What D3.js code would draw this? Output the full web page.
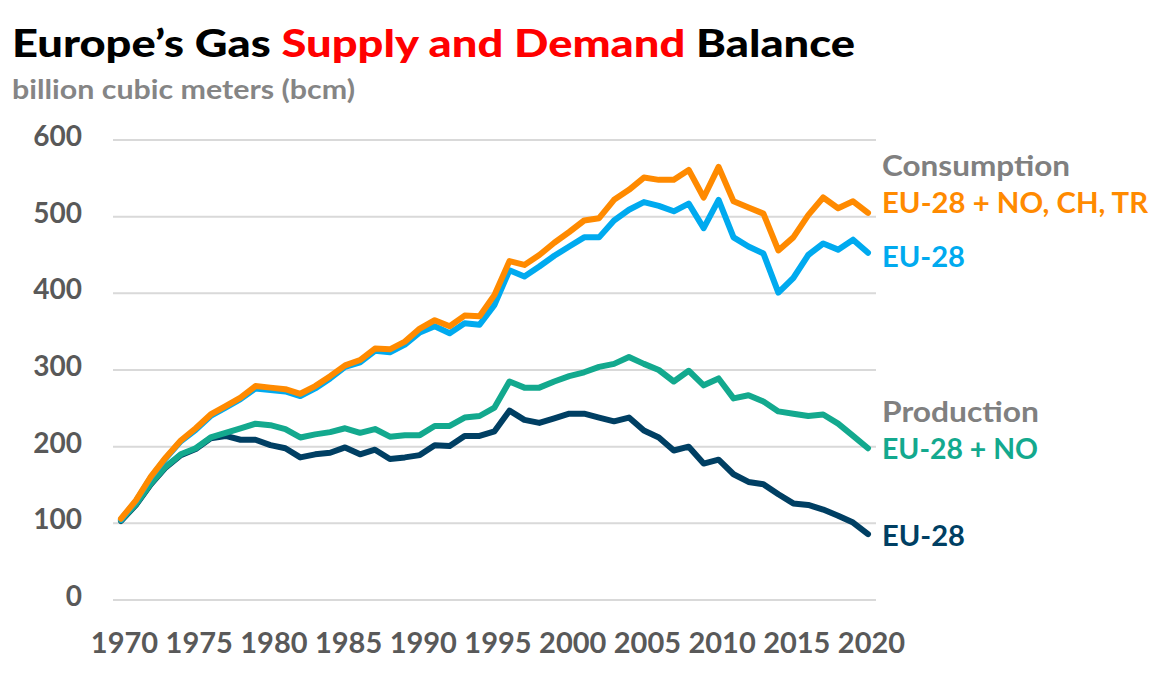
<!DOCTYPE html>
<html>
<head>
<meta charset="utf-8">
<script src="https://cdn.jsdelivr.net/npm/d3@7"></script>
<style>
  body { margin: 0; background: #fff; }
  svg { font-family: Lato, "Noto Sans", sans-serif; font-weight: bold; }
</style>
</head>
<body>
<svg width="1169" height="678"></svg>
<script>
// years 1970..2020
const years = d3.range(1970, 2021);

// Consumption EU-28 + NO, CH, TR
const consAll = [106, 130, 161, 186, 208, 224, 242, 253, 264, 279, 277, 275, 269, 279, 292, 306, 313, 328, 327, 337,
  354, 365, 357, 371, 370, 398, 442, 437, 450, 466, 480, 495, 498, 522, 535, 551, 548, 548, 561, 525,
  565, 520, 512, 504, 456, 473, 502, 525, 511, 520, 505];
// Consumption EU-28
const consEU = [105, 129, 160, 185, 207, 222, 240, 251, 262, 276, 274, 272, 266, 276, 289, 304, 310, 325, 323, 333,
  349, 357, 348, 361, 359, 385, 430, 422, 435, 449, 461, 473, 473, 495, 509, 519, 514, 507, 517, 485,
  522, 473, 461, 452, 401, 420, 450, 465, 457, 470, 453];
// Production EU-28 + NO
const prodAll = [104, 125, 152, 174, 190, 198, 212, 218, 224, 230, 228, 223, 212, 216, 219, 224, 218, 223, 213, 215,
  215, 227, 227, 238, 240, 251, 285, 277, 277, 285, 292, 297, 304, 308, 317, 308, 300, 285, 299, 280,
  289, 263, 267, 259, 246, 243, 240, 242, 230, 214, 198];
// Production EU-28
const prodEU = [103, 124, 151, 173, 189, 197, 211, 214, 209, 209, 202, 198, 186, 190, 192, 199, 190, 196, 184, 186,
  189, 202, 201, 214, 214, 220, 247, 235, 231, 237, 243, 243, 238, 233, 238, 221, 212, 195, 200, 178,
  183, 164, 154, 151, 138, 126, 124, 118, 110, 101, 86];

const yTicks = [0, 100, 200, 300, 400, 500, 600];
const xTicks = [1970, 1975, 1980, 1985, 1990, 1995, 2000, 2005, 2010, 2015, 2020];

const series = [
  {name: "EU-28", group: "prod", values: prodEU, color: "#003f63", dy: 12, w: 83},
  {name: "EU-28 + NO", group: "prod", values: prodAll, color: "#13a98e", dy: 11, w: 156},
  {name: "EU-28", group: "cons", values: consEU, color: "#00aaef", dy: 14, w: 83},
  {name: "EU-28 + NO, CH, TR", group: "cons", values: consAll, color: "#ff8a00", dy: 0, w: 266},
];

const svg = d3.select("svg");

const x = d3.scaleLinear().domain([1970, 2020]).range([121, 868]);
const y = d3.scaleLinear().domain([0, 600]).range([600, 140]);

// title
const title = svg.append("text").attr("x", 12).attr("y", 57)
  .attr("textLength", 843).attr("lengthAdjust", "spacingAndGlyphs")
  .style("font-size", "38px").style("font-weight", 900);
title.append("tspan").attr("fill", "#000").text("Europe\u2019s Gas ");
title.append("tspan").attr("fill", "#ff0000").text("Supply and Demand");
title.append("tspan").attr("fill", "#000").text(" Balance");

svg.append("text").attr("x", 12).attr("y", 99)
  .attr("textLength", 343).attr("lengthAdjust", "spacingAndGlyphs")
  .attr("fill", "#858585").style("font-size", "26px")
  .text("billion cubic meters (bcm)");

// gridlines
svg.append("g")
  .selectAll("line")
  .data(yTicks)
  .enter()
  .append("line")
  .attr("x1", 113).attr("x2", 876)
  .attr("y1", d => y(d)).attr("y2", d => y(d))
  .attr("stroke", "#d9d9d9").attr("stroke-width", 2);

// y axis labels
const yAxis = svg.append("g").attr("transform", "translate(82,0)")
  .call(d3.axisLeft(y).tickValues(yTicks).tickSize(0).tickPadding(0));
yAxis.select(".domain").remove();
yAxis.selectAll("text")
  .attr("fill", "#595959").attr("dy", "0.2em")
  .style("font-size", "28px").style("font-family", "Lato, sans-serif").style("font-weight", "bold");

// x axis labels
const xAxis = svg.append("g").attr("transform", "translate(3,630)")
  .call(d3.axisBottom(x).tickValues(xTicks).tickFormat(d3.format("d")).tickSize(0).tickPadding(0));
xAxis.select(".domain").remove();
xAxis.selectAll("text")
  .attr("fill", "#595959").attr("dy", "0.8em")
  .style("font-size", "29px").style("font-family", "Lato, sans-serif").style("font-weight", "bold");

// lines
const line = d3.line()
  .x((d, i) => x(years[i]))
  .y(d => y(d));

svg.append("g")
  .selectAll("path")
  .data(series)
  .enter()
  .append("path")
  .attr("d", d => line(d.values))
  .attr("fill", "none")
  .attr("stroke", d => d.color)
  .attr("stroke-width", 6)
  .attr("stroke-linejoin", "round")
  .attr("stroke-linecap", "round");

// end labels
svg.append("g")
  .selectAll("text")
  .data(series)
  .enter()
  .append("text")
  .attr("x", 882)
  .attr("y", d => y(d.values[d.values.length - 1]) + d.dy)
  .attr("textLength", d => d.w).attr("lengthAdjust", "spacingAndGlyphs")
  .attr("fill", d => d.color)
  .style("font-size", "28px")
  .text(d => d.name);

// group headers
svg.append("text").attr("x", 882).attr("y", 176)
  .attr("textLength", 188).attr("lengthAdjust", "spacingAndGlyphs")
  .attr("fill", "#808080").style("font-size", "28px").text("Consumption");
svg.append("text").attr("x", 882).attr("y", 422)
  .attr("textLength", 157).attr("lengthAdjust", "spacingAndGlyphs")
  .attr("fill", "#808080").style("font-size", "28px").text("Production");
</script>
</body>
</html>
